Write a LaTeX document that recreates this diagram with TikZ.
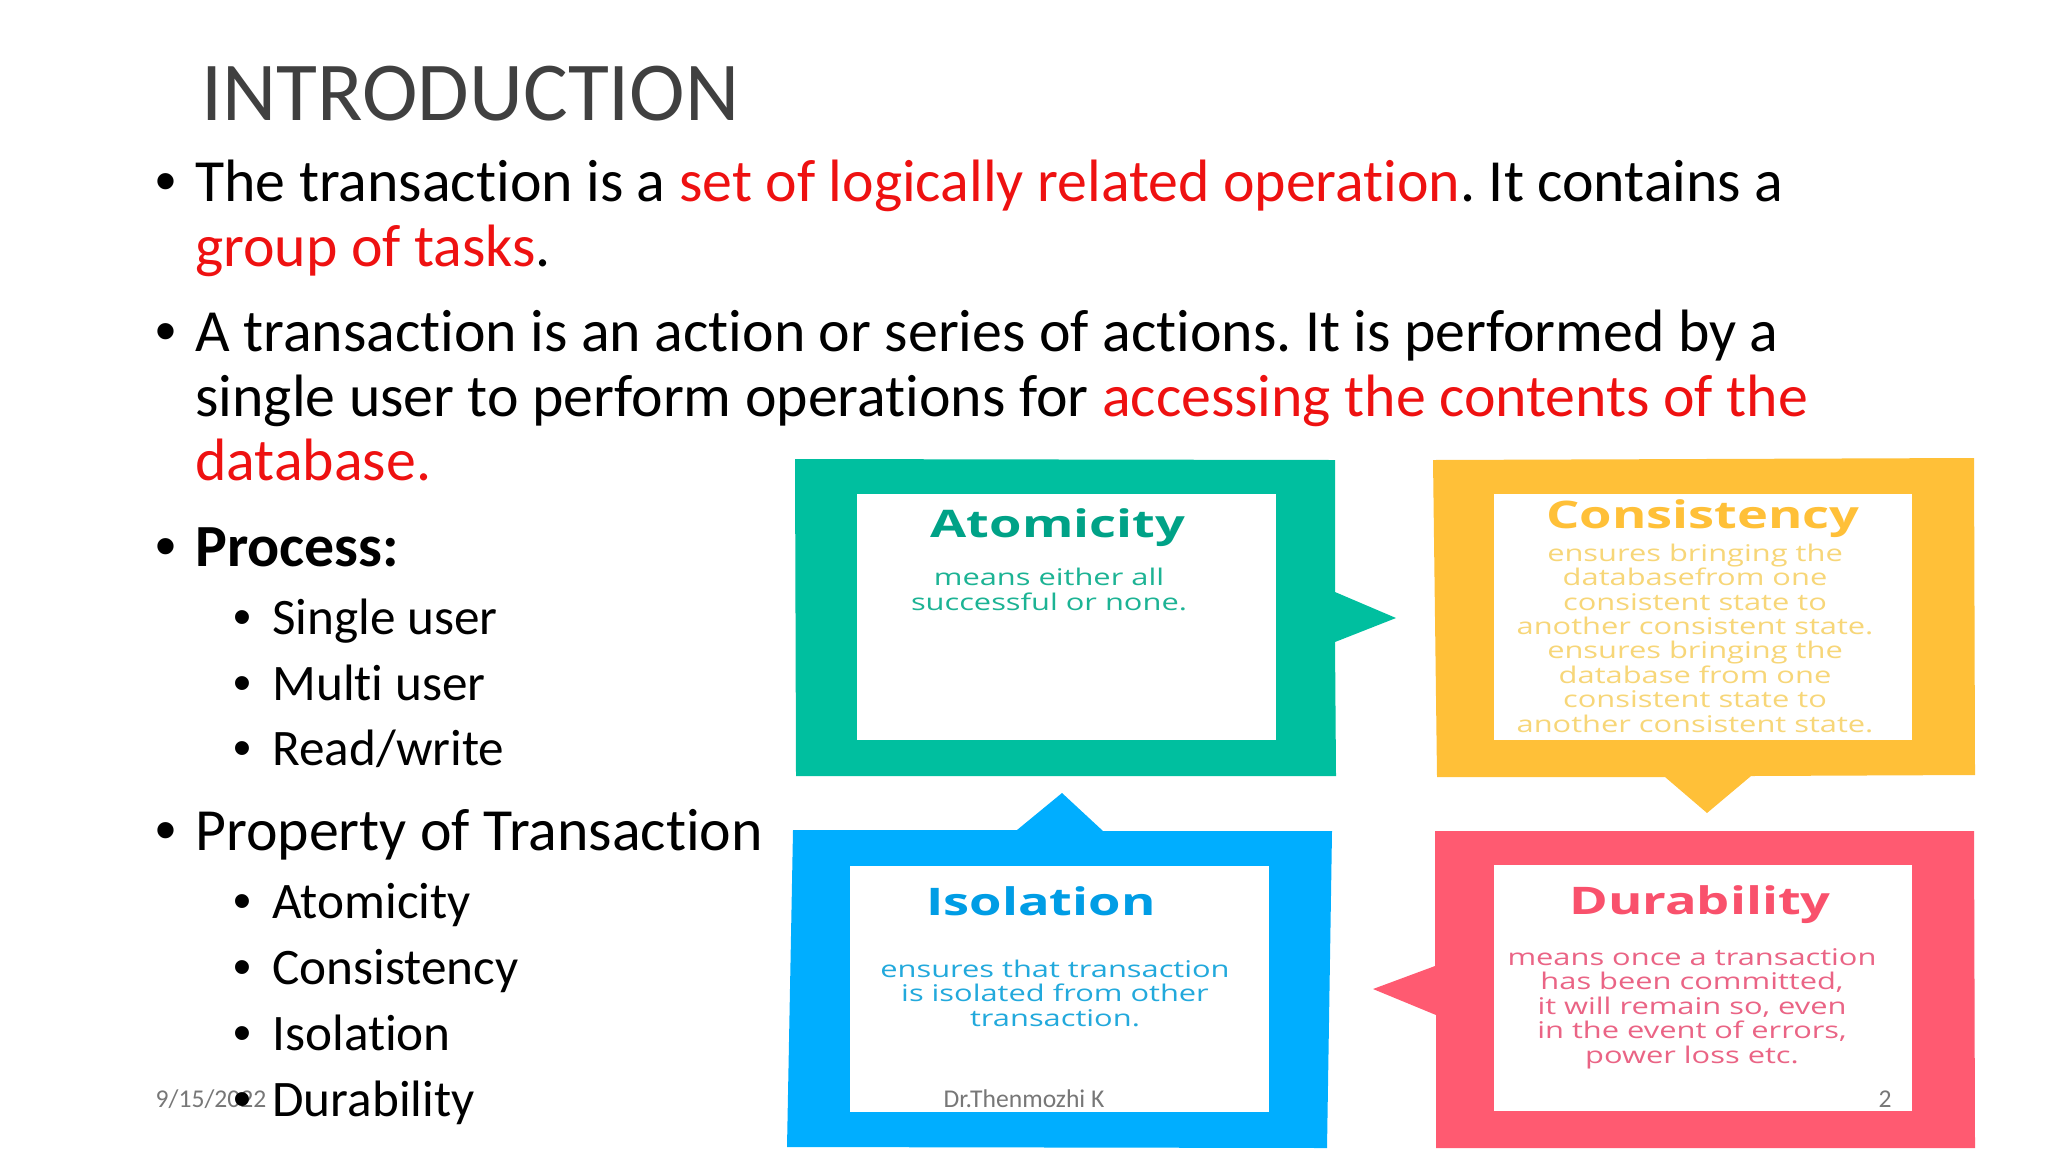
\documentclass[tikz,border=0pt]{standalone}
\usepackage{fontspec}
\setmainfont{Carlito}[Ligatures=CommonOff]
\newfontfamily\bubblefont{Open Sans}
\newfontfamily\dotfont{Liberation Sans}
\definecolor{atomgreen}{HTML}{00BF9F}
\definecolor{atomtext}{HTML}{1CB394}
\definecolor{consyellow}{HTML}{FFC038}
\definecolor{constext}{HTML}{F7D678}
\definecolor{isoblue}{HTML}{00AEFF}
\definecolor{isotext}{HTML}{22A9DC}
\definecolor{durpink}{HTML}{FF5A71}
\definecolor{durtext}{HTML}{EA6485}
\definecolor{slidered}{HTML}{EE1111}
\definecolor{footgray}{HTML}{777777}
\begin{document}
\frenchspacing
\begin{tikzpicture}
            [x=0.5pt,y=-0.5pt]
            \tikzstyle{title text}=[anchor=base west,inner sep=0,font=\fontsize{41.9}{41.9}\selectfont,text=black!75]
            \tikzstyle{body text}=[anchor=base west,inner sep=0,font=\fontsize{29.9}{29.9}\selectfont,text=black]
            \tikzstyle{sub text}=[anchor=base west,inner sep=0,font=\fontsize{25.6}{25.6}\selectfont,text=black]
            \tikzstyle{body dot}=[anchor=base,inner sep=0,font=\dotfont\fontsize{29.9}{29.9}\selectfont,text=black]
            \tikzstyle{sub dot}=[anchor=base,inner sep=0,font=\dotfont\fontsize{25.6}{25.6}\selectfont,text=black]
            \tikzstyle{foot text}=[anchor=base,inner sep=0,font=\fontsize{12.8}{12.8}\selectfont,text=footgray]
            \tikzstyle{inner box}=[fill=white,draw=none]
            \tikzstyle{head text}=[anchor=base,inner sep=0,font=\bubblefont\bfseries\fontsize{19}{19}\selectfont,xscale=1.38,transform shape]
            \tikzstyle{note text}=[anchor=base,inner sep=0,align=center,font=\bubblefont\fontsize{11.5}{12.2}\selectfont,xscale=1.34,transform shape]

            \useasboundingbox (0,0) rectangle (2048,1152);

            % bubbles
            \fill[atomgreen] (795,459) -- (1335,460) -- (1335,592) -- (1396,618) -- (1335,642) -- (1336,776) -- (796,776) -- cycle;
            \fill[consyellow] (1433,460) -- (1974,458) -- (1975,775) -- (1751,776) -- (1707,813) -- (1665,777) -- (1437,777) -- cycle;
            \fill[isoblue] (793,830) -- (1017,830) -- (1062,793) -- (1103,831) -- (1332,831) -- (1327,1148) -- (787,1147) -- cycle;
            \fill[durpink] (1435,831) -- (1974,831) -- (1975,1148) -- (1436,1148) -- (1436,1015) -- (1373,989) -- (1435,966) -- cycle;
            \fill[inner box] (857,494) rectangle (1276,740);
            \fill[inner box] (1494,494) rectangle (1912,740);
            \fill[inner box] (850,866) rectangle (1269,1112);
            \fill[inner box] (1494,865) rectangle (1912,1111);

            % bubble text
            \node[head text,text=atomgreen!85!black] (atomhead) at (1058,537) {Atomicity};
            \node[note text,text=atomtext] (atomnote) at (1049,610) {means either all\\successful or none.};
            \node[head text,text=consyellow] (conshead) at (1703,528) {Consistency};
            \node[note text,text=constext] (consnote) at (1695,732) {ensures bringing the\\databasefrom one\\consistent state to\\another consistent state.\\ensures bringing the\\database from one\\consistent state to\\another consistent state.};
            \node[head text,text=isoblue!90!black] (isohead) at (1041,915) {Isolation};
            \node[note text,text=isotext] (isonote) at (1055,1026) {ensures that transaction\\is isolated from other\\transaction.};
            \node[head text,text=durpink!90!purple] (durhead) at (1700,914) {Durability};
            \node[note text,text=durtext] (durnote) at (1692,1063) {means once a transaction\\has been committed,\\it will remain so, even\\in the event of errors,\\power loss etc.};

            % slide text
            \node[title text] (title) at (201,120) {INTRODUCTION};

            \node[body dot] (d1) at (166,201) {•};
            \node[body text] (l1) at (195,201) {The transaction is a \textcolor{slidered}{set of logically related operation}. It contains a};
            \node[body text] (l2) at (195,266) {\textcolor{slidered}{group of tasks}.};
            \node[body dot] (d2) at (166,351) {•};
            \node[body text] (l3) at (195,351) {A transaction is an action or series of actions. It is performed by a};
            \node[body text] (l4) at (195,416) {single user to perform operations for \textcolor{slidered}{accessing the contents of the}};
            \node[body text] (l5) at (195,480) {\textcolor{slidered}{database.}};
            \node[body dot] (d3) at (166,566) {•};
            \node[body text] (l6) at (195,566) {\textbf{Process:}};
            \node[sub dot] (d4) at (242,634) {•};
            \node[sub text] (s1) at (272,634) {Single user};
            \node[sub dot] (d5) at (242,700) {•};
            \node[sub text] (s2) at (272,700) {Multi user};
            \node[sub dot] (d6) at (242,765) {•};
            \node[sub text] (s3) at (272,765) {Read/write};
            \node[body dot] (d7) at (166,850) {•};
            \node[body text] (l7) at (195,850) {Property of Transaction};
            \node[sub dot] (d8) at (242,918) {•};
            \node[sub text] (s4) at (272,918) {Atomicity};
            \node[sub dot] (d9) at (242,984) {•};
            \node[sub text] (s5) at (272,984) {Consistency};
            \node[sub dot] (d10) at (242,1050) {•};
            \node[sub text] (s6) at (272,1050) {Isolation};
            \node[foot text] (date) at (211,1107) {9/15/2022};
            \node[sub dot] (d11) at (242,1116) {•};
            \node[sub text] (s7) at (272,1116) {Durability};
            \node[foot text] (author) at (1024,1107) {Dr.Thenmozhi K};
            \node[foot text] (page) at (1885,1107) {2};
\end{tikzpicture}
\end{document}
